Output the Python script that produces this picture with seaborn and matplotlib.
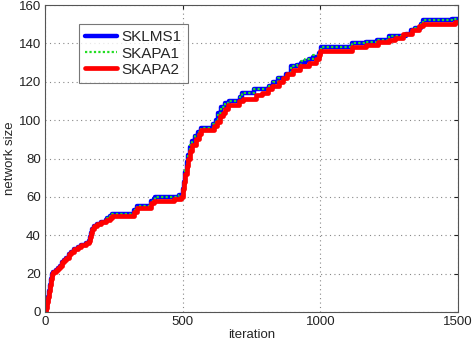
import matplotlib
matplotlib.use("Agg")
import matplotlib.pyplot as plt
import seaborn as sns
import pandas as pd

# ---- data ----
series_names = ["SKLMS1", "SKAPA1", "SKAPA2"]

sklms1_iter = [0, 4, 8, 12, 15, 18, 22, 26, 30, 40, 48, 55, 62, 68, 78, 88, 96, 105, 118, 130, 150, 160, 165, 168, 172, 178, 190, 205, 220, 225, 235, 245, 325, 335, 385, 395, 400, 485,
               500, 505, 510, 515, 520, 527, 535, 545, 555, 565, 610, 620, 630, 640, 655, 670, 710, 715, 760, 815, 830, 845, 875, 895, 915, 930, 945, 960, 975, 995, 1002,
               1115, 1165, 1205, 1250, 1310, 1330, 1345, 1365, 1375, 1480, 1500]
sklms1_val = [0, 2, 5, 8, 11, 14, 17, 20, 21, 22, 23, 24, 26, 27, 28, 30, 31, 33, 34, 35, 36, 37, 39, 41, 43, 45, 46, 47, 48, 49, 50, 51, 53, 55, 58, 59, 60, 61,
              64, 68, 73, 78, 82, 86, 89, 92, 94, 96, 98, 100, 104, 107, 109, 110, 112, 114, 116, 118, 120, 122, 124, 128, 129, 130, 131, 132, 133, 135, 138,
              140, 141, 142, 144, 145, 147, 148, 150, 152, 153, 153]

skapa1_iter = [0, 4, 8, 12, 15, 18, 22, 26, 30, 40, 48, 55, 62, 68, 78, 88, 96, 105, 118, 130, 150, 160, 165, 168, 172, 178, 190, 205, 220, 225, 235, 245, 325, 335, 385, 395, 400, 485,
               500, 505, 510, 515, 520, 527, 535, 545, 555, 565, 610, 620, 630, 640, 655, 670, 710, 715, 760, 815, 830, 845, 875, 895, 915, 930, 945, 960, 975, 995, 1002,
               1115, 1165, 1205, 1250, 1310, 1330, 1345, 1365, 1375, 1480, 1500]
skapa1_val = [0, 2, 5, 8, 11, 14, 17, 20, 21, 22, 23, 24, 26, 27, 28, 30, 31, 33, 34, 35, 36, 37, 39, 41, 43, 45, 46, 47, 48, 49, 50, 51, 53, 55, 58, 59, 60, 61,
              64, 69, 74, 79, 83, 87, 89, 92, 94, 96, 98, 100, 104, 107, 109, 110, 112, 114, 116, 118, 120, 122, 124, 128, 129, 131, 132, 132, 134, 135, 138,
              140, 141, 142, 144, 145, 147, 148, 150, 152, 153, 153]

skapa2_iter = [0, 4, 8, 12, 15, 18, 22, 26, 30, 40, 48, 55, 62, 68, 78, 88, 96, 105, 118, 130, 150, 160, 165, 168, 172, 178, 190, 205, 220, 235, 245, 325, 335, 385, 395, 470, 495,
               500, 505, 510, 515, 520, 527, 535, 550, 560, 565, 615, 625, 635, 645, 655, 665, 705, 720, 765, 790, 810, 825, 850, 865, 880, 900, 925, 960, 985, 995, 1000,
               1115, 1165, 1210, 1250, 1270, 1300, 1335, 1360, 1375, 1490, 1500]
skapa2_val = [0, 2, 5, 8, 11, 14, 17, 20, 21, 22, 23, 24, 26, 27, 28, 30, 31, 33, 34, 35, 36, 37, 39, 41, 43, 45, 46, 47, 48, 49, 50, 52, 54, 57, 58, 59, 60,
              64, 68, 72, 76, 80, 84, 87, 90, 93, 95, 97, 99, 102, 104, 106, 108, 110, 111, 113, 114, 116, 118, 120, 122, 124, 126, 128, 130, 132, 134, 136,
              138, 139, 141, 142, 143, 145, 147, 149, 150, 151, 151]

x_ticks = [0, 500, 1000, 1500]
y_ticks = [0, 20, 40, 60, 80, 100, 120, 140, 160]

# ---- build long table ----
frames = []
for name, xs, ys in zip(series_names,
                        [sklms1_iter, skapa1_iter, skapa2_iter],
                        [sklms1_val, skapa1_val, skapa2_val]):
    frames.append(pd.DataFrame({"iteration": xs, "network size": ys, "series": name}))
df = pd.concat(frames, ignore_index=True)

sns.set_style("white")
plt.rcParams["font.family"] = ["Liberation Sans", "DejaVu Sans"]

fig = plt.figure(figsize=(4.74, 3.42), dpi=100)
ax = fig.add_axes([0.095, 0.088, 0.871, 0.897])

styles = {
    "SKLMS1": dict(color="#0000ff", lw=3.2, ls="-"),
    "SKAPA1": dict(color="#22dd22", lw=1.6, ls=(0, (1, 1))),
    "SKAPA2": dict(color="#ff0000", lw=3.4, ls="-"),
}
for name in series_names:
    sub = df[df["series"] == name]
    st = styles[name]
    sns.lineplot(data=sub, x="iteration", y="network size", ax=ax, estimator=None,
                 drawstyle="steps-post", color=st["color"], linewidth=st["lw"],
                 linestyle=st["ls"], label=name)

ax.set_xlim(0, 1500)
ax.set_ylim(0, 160)
ax.set_xticks(x_ticks)
ax.set_yticks(y_ticks)
ax.tick_params(direction="in", labelsize=9.5, length=3, colors="#222222", pad=3,
               top=True, right=True)
ax.grid(True, linestyle=(0, (1, 3)), color="#888888", linewidth=0.8)
for s in ax.spines.values():
    s.set_color("#555555")
    s.set_linewidth(0.8)
ax.set_xlabel("iteration", fontsize=9.5, labelpad=1)
ax.set_ylabel("network size", fontsize=9.5, labelpad=2)

leg = ax.legend(loc="upper left", bbox_to_anchor=(0.082, 0.938), borderaxespad=0,
                fontsize=11, frameon=True, fancybox=False, handlelength=2.1,
                handletextpad=0.3, borderpad=0.4, labelspacing=0.15)
leg.get_frame().set_edgecolor("#555555")
leg.get_frame().set_linewidth(0.8)

fig.savefig("out.png", dpi=100)
